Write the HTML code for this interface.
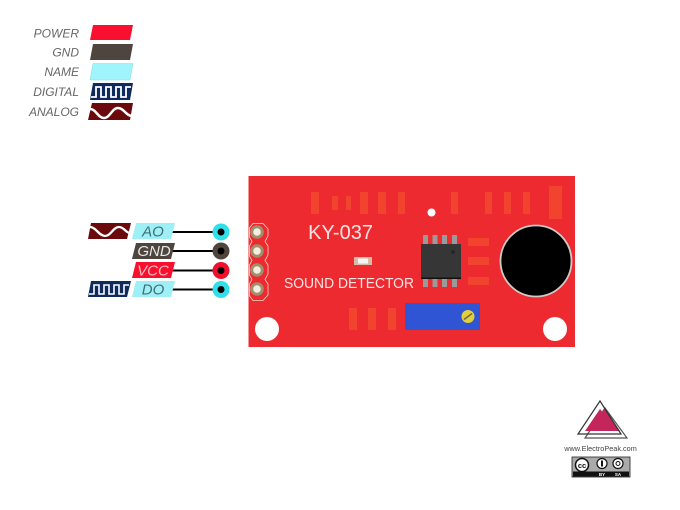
<!DOCTYPE html>
<html>
<head>
<meta charset="utf-8">
<style>
html,body{margin:0;padding:0;background:#fff;width:680px;height:510px;overflow:hidden}
svg{display:block}
text{font-family:"Liberation Sans",sans-serif}
</style>
</head>
<body>
<svg width="680" height="510" viewBox="0 0 680 510" xmlns="http://www.w3.org/2000/svg">
<!-- Legend -->
<g font-size="12" font-style="italic" fill="#666" text-anchor="end">
<text x="79" y="37.500">POWER</text>
<text x="79" y="56.500">GND</text>
<text x="79" y="76">NAME</text>
<text x="79" y="96">DIGITAL</text>
<text x="79" y="116">ANALOG</text>
</g>
<polygon points="93,25 133,25 130,40 90,40" fill="#f9102e"/>
<polygon points="93,44 133,44 130,60 90,60" fill="#4f453f"/>
<polygon points="93,63.500 133,63.500 130,80 90,80" fill="#9ff5fb" stroke="#7fdde5" stroke-width=".5"/>
<polygon points="93,83 133,83 130,100 90,100" fill="#0f2a5c"/>
<path d="M91,97H96V87H101V97H106V87H111V97H116V87H121V97H126V87H131" fill="none" stroke="#fff" stroke-width="1.800"/>
<polygon points="92,103 133,103 130,120 88,120" fill="#6b0a0c"/>
<path d="M90,109C96,109 98,118 104,118C110,118 112,108 118,108C124,108 126,116 132,116" fill="none" stroke="#fff" stroke-width="2.500"/>

<!-- Pin labels -->
<polygon points="91,223 131,223 127,239 88,239" fill="#6b0a0c"/>
<path d="M90,227C96,227 99,236 105,236C111,236 113,227 119,227C124,227 126,233 130,233" fill="none" stroke="#fff" stroke-width="2.300"/>
<polygon points="91,281 131,281 127,297 88,297" fill="#0f2a5c"/>
<path d="M89,294H94V285H99V294H104V285H109V294H114V285H119V294H124V285H129" fill="none" stroke="#fff" stroke-width="1.600"/>

<g stroke="#000" stroke-width="2">
<line x1="172" y1="232" x2="215" y2="232"/>
<line x1="172" y1="251" x2="215" y2="251"/>
<line x1="172" y1="270.500" x2="215" y2="270.500"/>
<line x1="172" y1="289.500" x2="215" y2="289.500"/>
</g>
<polygon points="136,223 175,223 171,239 132,239" fill="#9ff0f6"/>
<polygon points="136,243 175,243 171,259 132,259" fill="#4f453f"/>
<polygon points="136,262 175,262 171,278 132,278" fill="#f9102e"/>
<polygon points="136,281 175,281 171,297 132,297" fill="#9ff0f6"/>
<g font-size="15" font-style="italic" text-anchor="middle">
<text x="153" y="236.500" fill="#3f6f78">AO</text>
<text x="154" y="256" fill="#e8e8e8">GND</text>
<text x="153" y="275.500" fill="#ffb8c0">VCC</text>
<text x="153" y="294.500" fill="#3f6f78">DO</text>
</g>
<circle cx="221" cy="232" r="8.500" fill="#2fe0ea"/><circle cx="221" cy="232" r="3.500" fill="#000"/>
<circle cx="221" cy="251" r="8.500" fill="#4f453f"/><circle cx="221" cy="251" r="3.500" fill="#000"/>
<circle cx="221" cy="270.500" r="8.500" fill="#f0102e"/><circle cx="221" cy="270.500" r="3.500" fill="#000"/>
<circle cx="221" cy="289.500" r="8.500" fill="#2fe0ea"/><circle cx="221" cy="289.500" r="3.500" fill="#000"/>

<!-- Board -->
<rect x="248.500" y="176" width="326.500" height="171" fill="#ec2a30"/>
<g fill="#f2432f">
<rect x="311" y="192" width="8" height="22"/>
<rect x="332" y="196" width="6" height="14"/>
<rect x="346" y="196" width="5" height="14"/>
<rect x="360" y="192" width="8" height="22"/>
<rect x="378" y="192" width="8" height="22"/>
<rect x="398" y="192" width="7" height="22"/>
<rect x="451" y="192" width="7" height="22"/>
<rect x="485" y="192" width="7" height="22"/>
<rect x="504" y="192" width="7" height="22"/>
<rect x="523" y="192" width="7" height="22"/>
<rect x="549" y="186" width="13" height="33"/>
<rect x="468" y="238" width="21" height="8"/>
<rect x="468" y="257" width="21" height="8"/>
<rect x="468" y="277" width="21" height="8"/>
<rect x="349" y="308" width="8" height="22"/>
<rect x="368" y="308" width="8" height="22"/>
<rect x="388" y="308" width="8" height="22"/>
</g>
<!-- header outline -->
<path d="M253,223.500H263L268,229V236L265,241.500L268,246V255L265,260.500L268,265V274L265,279.500L268,284V295L263,300.500H253L249.500,296V284L252,279.500L249.500,275V265L252,260.500L249.500,256V246L252,241.500L249.500,237V228Z" fill="none" stroke="#f6d8d0" stroke-width=".8"/>
<g fill="#f3eee2" stroke="#a08e6c" stroke-width="3">
<circle cx="257" cy="232" r="5.300"/>
<circle cx="257" cy="251" r="5.300"/>
<circle cx="257" cy="270" r="5.300"/>
<circle cx="257" cy="289" r="5.300"/>
</g>
<text x="340.500" y="239" font-size="20" fill="#fbe4e2" text-anchor="middle">KY-037</text>
<text x="349" y="288" font-size="15" fill="#fbe4e2" text-anchor="middle" textLength="130" lengthAdjust="spacingAndGlyphs">SOUND DETECTOR</text>
<rect x="354" y="257" width="18" height="8" fill="#d9b9a8"/>
<rect x="358" y="258.500" width="10" height="5" fill="#f5f5f0"/>
<circle cx="431.500" cy="212.500" r="4" fill="#fff"/>
<circle cx="267" cy="329" r="12" fill="#fff"/>
<circle cx="555" cy="329" r="12" fill="#fff"/>
<!-- IC -->
<g fill="#9a9a9a">
<rect x="423" y="235" width="5" height="10"/>
<rect x="432.500" y="235" width="5" height="10"/>
<rect x="442" y="235" width="5" height="10"/>
<rect x="452" y="235" width="5" height="10"/>
<rect x="423" y="277" width="5" height="10"/>
<rect x="432.500" y="277" width="5" height="10"/>
<rect x="442" y="277" width="5" height="10"/>
<rect x="452" y="277" width="5" height="10"/>
</g>
<rect x="421" y="244" width="40" height="35" fill="#363636"/>
<rect x="421" y="277.500" width="40" height="1.500" fill="#111"/>
<circle cx="453" cy="252" r="1.800" fill="#222"/>
<!-- Potentiometer -->
<rect x="405" y="303" width="75" height="27" fill="#2f55d4"/>
<circle cx="468" cy="316.500" r="6.500" fill="#e3cf3a"/>
<line x1="464" y1="319.500" x2="472" y2="313.500" stroke="#6c6a4a" stroke-width="1.500"/>
<!-- Microphone -->
<circle cx="536" cy="261" r="35.500" fill="#000" stroke="#cfcac6" stroke-width="1.800"/>

<!-- Logo -->
<polygon points="605,408 627,438 585,438" fill="none" stroke="#555" stroke-width="1.200"/>
<polygon points="600,409 618,431 585,431" fill="#c4255a"/>
<polygon points="605,409 620,431 590,431" fill="#c4255a"/>
<polygon points="600,401 621,434 578,434" fill="none" stroke="#333" stroke-width="1.200"/>
<text x="600.500" y="451" font-size="7.300" fill="#444" text-anchor="middle">www.ElectroPeak.com</text>
<rect x="572" y="457" width="58" height="20" fill="#aaa" stroke="#222" stroke-width=".8"/>
<rect x="573" y="471.500" width="56" height="5" fill="#111"/>
<circle cx="582" cy="465" r="6.500" fill="#fff" stroke="#111" stroke-width="1.500"/>
<text x="582" y="468" font-size="7.500" font-weight="bold" fill="#111" text-anchor="middle">cc</text>
<circle cx="602" cy="463.500" r="5" fill="#fff" stroke="#111" stroke-width="1.200"/>
<rect x="601" y="460.500" width="2" height="6" fill="#111"/>
<circle cx="618" cy="463.500" r="5" fill="#fff" stroke="#111" stroke-width="1.200"/>
<circle cx="618" cy="463.500" r="2" fill="none" stroke="#111" stroke-width="1"/>
<text x="602" y="476" font-size="4.500" font-weight="bold" fill="#fff" text-anchor="middle">BY</text>
<text x="618" y="476" font-size="4.500" font-weight="bold" fill="#fff" text-anchor="middle">SA</text>
</svg>
</body>
</html>
